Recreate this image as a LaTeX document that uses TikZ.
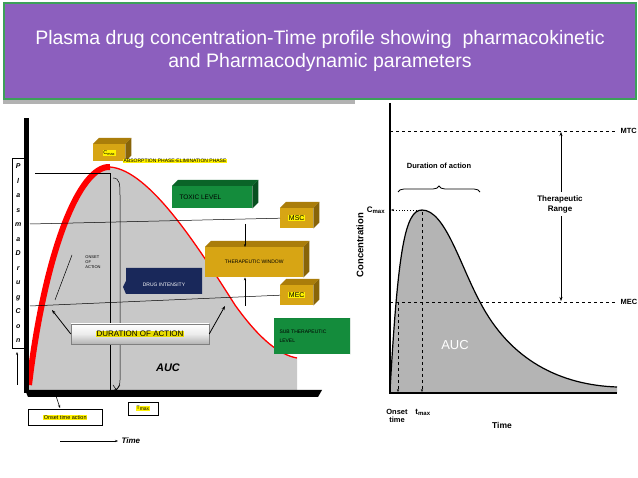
\documentclass[tikz,border=0pt]{standalone}
\usepackage{fontspec}
\setmainfont{Liberation Sans}
\usetikzlibrary{arrows.meta,decorations.pathreplacing,shadings}
\definecolor{ban}{RGB}{140,95,190}
\definecolor{bangreen}{RGB}{60,160,90}
\definecolor{gold}{RGB}{215,165,20}
\definecolor{goldd}{RGB}{170,125,10}
\definecolor{gre}{RGB}{20,140,60}
\definecolor{gred}{RGB}{10,100,40}
\definecolor{navy}{RGB}{25,40,90}
\definecolor{fillg}{RGB}{200,200,200}
\definecolor{fillr}{RGB}{180,180,180}
\tikzset{
  face/.style={draw=none,inner sep=1pt,font=\fontsize{5}{6}\selectfont,anchor=north west},
  hl/.style={fill=yellow,inner sep=0.5pt,font=\fontsize{5}{6}\selectfont},
  thin/.style={line width=0.5pt},
  dsh/.style={dashed,line width=0.8pt},
}
\newcommand\boxthree[8]{% name,x1,y1,w,h,col,dark,depth
  \node[face,fill=#6,minimum width=#4pt,minimum height=#5pt] (#1) at (#2,#3) {};
  \fill[#7] (#1.north west) -- ++(#8,-#8) -- ([xshift=#8pt,yshift=#8pt]#1.north east) -- (#1.north east) -- cycle;
  \fill[#7!80!black] (#1.north east) -- ++(#8,-#8) -- ([xshift=#8pt,yshift=#8pt]#1.south east) -- (#1.south east) -- cycle;
}
\begin{document}
\begin{tikzpicture}[x=1pt,y=-1pt]
\useasboundingbox (0,0) rectangle (638,478);
\fill[white] (0,0) rectangle (638,478);
% banner
\fill[gray!60] (3,100) rectangle (355,104);
\node[draw=bangreen,line width=2pt,fill=ban,minimum width=632pt,minimum height=96pt,anchor=north west,inner sep=0pt,
  text=white,align=center,font=\fontsize{19.5}{23}\selectfont] (title) at (3,2)
  {Plasma drug concentration-Time profile showing\ \ pharmacokinetic\\and Pharmacodynamic parameters};
% ===== left panel
\filldraw[fill=fillg,draw=none] (27,390) .. controls (45,250) and (80,165) .. (110,167) .. controls (150,170) and (200,250) .. (235,305) .. controls (260,340) and (280,355) .. (297,358) -- (297,391) -- cycle;
\draw[red,line width=6pt] (29,385) .. controls (45,250) and (80,165) .. (110,167);
\draw[red,line width=1.3pt] (110,167) .. controls (150,170) and (200,250) .. (235,305) .. controls (260,340) and (280,355) .. (297,358);
\fill[black] (24,118) rectangle (29,393);
\fill[black] (25,390) -- (322,390) -- (318,397) -- (28,397) -- cycle;
% lines
\coordinate (cl) at (35,173); \coordinate (cr) at (110,173);
\draw[thin] (cl) -- (cr) -- (110,390);
\draw[thin] (113,178) .. controls (120,178) and (120,185) .. (120,195) -- (120,380) .. controls (120,388) and (116,390) .. (114,390);
\draw[thin] (113,385) -- (120,395) (120,385) -- (113,395);
\boxthree{msc}{280}{208}{33}{20}{gold}{goldd}{6}
\boxthree{mec}{280}{285}{33}{20}{gold}{goldd}{6}
\draw[thin] (30,224) -- (msc.west);
\draw[thin] (30,306) -- (mec.west);
\node[font=\fontsize{7}{8}\selectfont,fill=yellow,inner sep=0.5pt] at (msc.center) {MSC};
\node[font=\fontsize{7}{8}\selectfont,fill=yellow,inner sep=0.5pt] at (mec.center) {MEC};
\boxthree{cmax}{93}{144}{32}{17}{gold}{goldd}{6}
\node[hl,font=\fontsize{5.5}{6}\selectfont] at (cmax.center) {C\textsubscript{max}};
\node[hl,anchor=west] (abs) at (123,161) {ABSORPTION PHASE-ELIMINATION PHASE};
\boxthree{toxic}{172}{186}{80}{22}{gre}{gred}{6}
\node[font=\fontsize{6.5}{7}\selectfont,anchor=west] at ([xshift=4pt]toxic.west) {TOXIC LEVEL};
\boxthree{tw}{205}{247}{98}{30}{gold}{goldd}{6}
\node[font=\fontsize{5}{6}\selectfont] at (tw.center) {THERAPEUTIC WINDOW};
\draw[-{Stealth[length=3pt]},thin] (245,224) -- (tw.north -| 245,0);
\draw[-{Stealth[length=3pt]},thin] (245,306) -- (tw.south -| 245,0);
\boxthree{sub}{274}{318}{76}{36}{gre}{gred}{0}
\node[font=\fontsize{5}{9}\selectfont,align=left,anchor=west] at ([xshift=2pt]sub.west) {SUB THERAPEUTIC\\LEVEL};
\fill[navy] (126,268) -- (202,268) -- (202,294) -- (126,294) -- (123,287) -- (126,281) -- cycle;
\node[text=white,font=\fontsize{5}{6}\selectfont] (di) at (164,285) {DRUG INTENSITY};
\node[font=\fontsize{4}{5}\selectfont,align=left] (onset) at (93,262) {ONSET\\OF\\ACTION};
\draw[thin] (72,255) -- (55,300);
\node[draw=gray,top color=white,bottom color=gray!60,middle color=gray!15,minimum width=138pt,minimum height=20pt,inner sep=0pt] (dur) at (140,334) {};
\node[fill=yellow!80!olive,inner sep=0.5pt,font=\fontsize{8}{9}\selectfont] at (dur.center) {DURATION OF ACTION};
\draw[-{Stealth[length=4pt]},line width=0.8pt] (dur.west) -- (52,310);
\draw[-{Stealth[length=4pt]},line width=0.8pt] (dur.east) -- (225,306);
\node[font=\bfseries\itshape\fontsize{11}{12}\selectfont] (auc) at (168,368) {AUC};
\node[draw,fill=white,minimum width=12pt,minimum height=190pt,inner sep=0pt,anchor=north west] (pdc) at (12,158) {};
\node[font=\bfseries\itshape\fontsize{7}{14.5}\selectfont,align=center] at (pdc.center) {P\\l\\a\\s\\m\\a\\D\\r\\u\\g\\C\\o\\n};
\draw[-{Stealth[length=3pt]},thin] (17,385) -- (17,352);
\node[draw,fill=white,minimum width=74pt,minimum height=16pt,inner sep=0pt,anchor=north west] (ota) at (28,409) {};
\node[hl,font=\fontsize{5.5}{6}\selectfont] at (ota.center) {Onset time action};
\node[draw,fill=white,minimum width=30pt,minimum height=13pt,inner sep=0pt,anchor=north west] (tmx) at (128,402) {};
\node[hl,font=\fontsize{5}{6}\selectfont] at (tmx.center) {T\textsubscript{max}};
\draw[-{Stealth[length=3pt]},thin] (56,396) -- (60,408);
\coordinate (t0) at (60,441);
\node[font=\bfseries\itshape\fontsize{8}{9}\selectfont,anchor=west] (ltime) at (118,441) {Time};
\draw[-{Stealth[length=3pt]},thin] (t0) -- (ltime.west);
% ===== right panel
\fill[fillr] (390,391) .. controls (398,250) and (405,210) .. (422,210) .. controls (445,210) and (460,265) .. (480,302) .. controls (510,360) and (560,385) .. (617,387) -- (617,393) -- (390,393) -- cycle;
\draw[line width=1.2pt] (390,391) .. controls (398,250) and (405,210) .. (422,210) .. controls (445,210) and (460,265) .. (480,302) .. controls (510,360) and (560,385) .. (617,387);
\draw[line width=1.3pt] (390,103) -- (390,393) -- (617,393);
\node[font=\bfseries\fontsize{7.5}{8}\selectfont,anchor=west] (mtc) at (617,131) {MTC};
\node[font=\bfseries\fontsize{7.5}{8}\selectfont,anchor=west] (mecr) at (617,302) {MEC};
\draw[dsh] (390,131) -- (mtc.west);
\draw[dsh] (390,302) -- (mecr.west);
\node[font=\bfseries\fontsize{8}{9}\selectfont] (cmr) at (376,210) {C\textsubscript{max}};
\draw[dotted,line width=0.8pt,-{Stealth[length=3pt]}] (422,210) -- (391,210);
\draw[dsh,-{Stealth[length=3pt]}] (398,302) -- (398,392);
\draw[dsh,-{Stealth[length=3pt]}] (422,212) -- (422,392);
\node[font=\bfseries\fontsize{7.5}{8.5}\selectfont,align=center] (onr) at (397,416) {Onset\\time};
\node[font=\bfseries\fontsize{8}{9}\selectfont] (tmr) at (423,412) {t\textsubscript{max}};
\node[font=\bfseries\fontsize{8.5}{9}\selectfont] (tr) at (502,425) {Time};
\node[text=white,font=\fontsize{13}{14}\selectfont] (aucr) at (455,345) {AUC};
\draw[decorate,decoration={brace,amplitude=6pt},line width=0.8pt] (398,192) -- (480,192);
\node[font=\bfseries\fontsize{7.5}{8}\selectfont] (doa) at (439,166) {Duration of action};
\node[font=\bfseries\fontsize{8}{10}\selectfont,align=center] (tr2) at (560,204) {Therapeutic\\Range};
\draw[-{Stealth[length=4pt]},thin] (tr2.north -| 561,0) -- (561,132);
\draw[-{Stealth[length=4pt]},thin] (tr2.south -| 561,0) -- (561,301);
\node[rotate=90,font=\bfseries\fontsize{9.5}{10}\selectfont] (conc) at (360,245) {Concentration};
\end{tikzpicture}
\end{document}
